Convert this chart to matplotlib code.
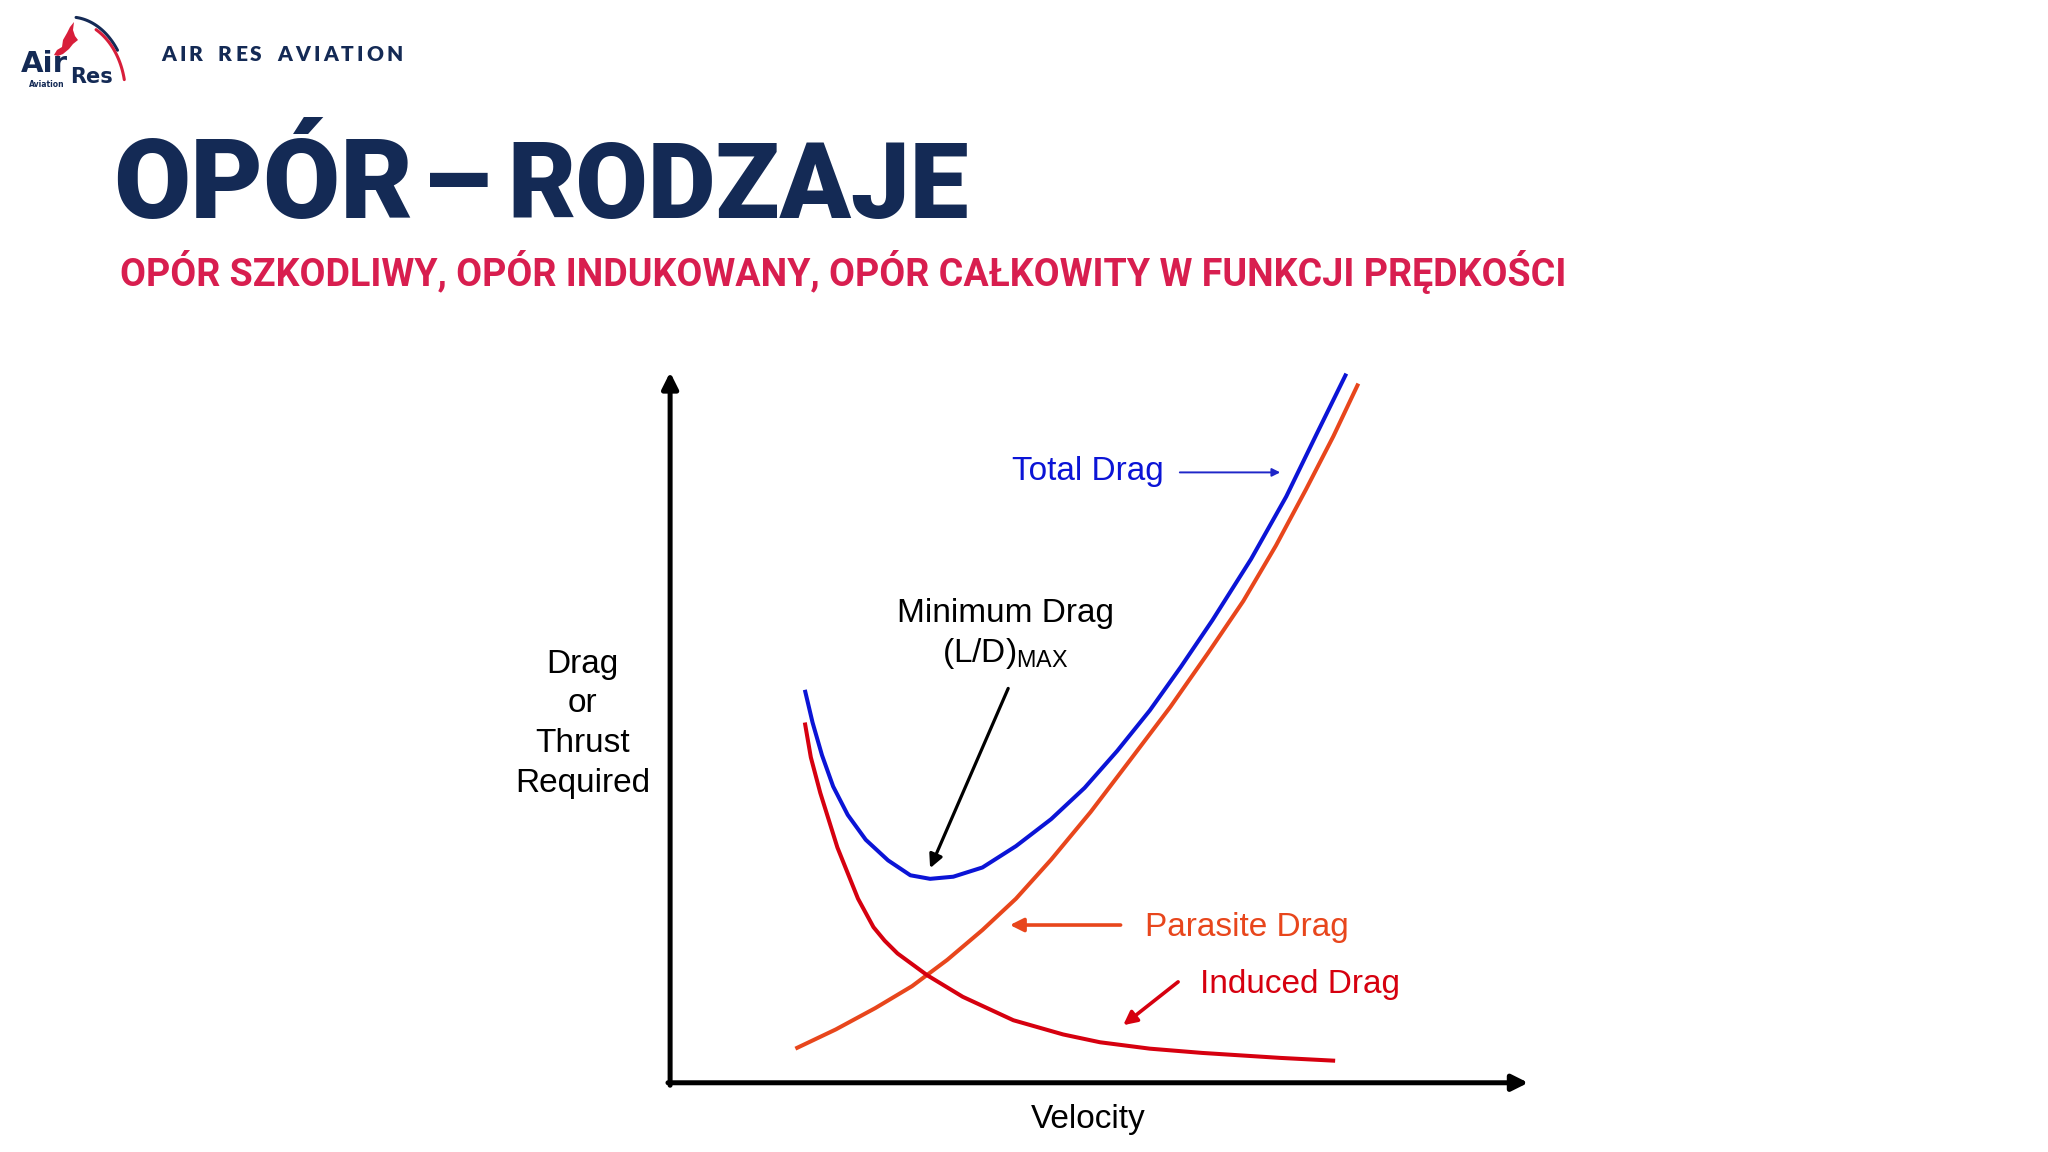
import numpy as np
import matplotlib
matplotlib.use("Agg")
import matplotlib.pyplot as plt

plt.rcParams['font.family'] = ['Liberation Sans', 'DejaVu Sans']
plt.rcParams['mathtext.default'] = 'regular'

# -------------------------
# Curve data (arbitrary 0-100 units)
# -------------------------
total_v = [15.7, 16.6, 17.7, 19.0, 20.7, 22.8, 25.4, 28.0, 30.3, 33.0, 36.4, 40.3, 44.4,
           48.3, 52.1, 55.9, 59.5, 63.2, 67.7, 71.8, 75.3, 78.8]
total_d = [55.3, 50.7, 46.1, 41.7, 37.7, 34.2, 31.3, 29.2, 28.7, 29.0, 30.3, 33.3, 37.1,
           41.5, 46.7, 52.4, 58.5, 65.1, 73.7, 82.5, 91.2, 99.8]

parasite_v = [14.6, 19.3, 23.9, 28.2, 32.3, 36.4, 40.3, 44.4, 49.0, 53.6, 58.3, 62.7, 66.8,
              70.6, 74.1, 77.3, 80.2]
parasite_d = [4.8, 7.5, 10.5, 13.6, 17.3, 21.5, 25.9, 31.4, 38.1, 45.4, 52.9, 60.5, 67.8,
              75.6, 83.5, 91.0, 98.4]

induced_v = [15.7, 16.4, 17.5, 19.5, 21.9, 23.7, 25.0, 26.5, 30.0, 34.1, 40.0, 45.8, 50.1,
             55.9, 62.0, 71.1, 77.5]
induced_d = [50.7, 45.8, 40.8, 33.1, 25.9, 21.9, 20.0, 18.2, 15.1, 12.1, 8.8, 6.8, 5.7,
             4.8, 4.2, 3.5, 3.1]

blue = '#0B14D6'
orange = '#E8461C'
red = '#D6000F'
navy = '#142A55'
crimson = '#D81E4F'

fig = plt.figure(figsize=(20.48, 11.52), dpi=100)
fig.patch.set_facecolor('white')
renderer = fig.canvas.get_renderer()


def fit_width(t, target):
    w = t.get_window_extent(renderer).width
    t.set_fontsize(t.get_fontsize() * target / w)


# -------------------------
# Page header (pixel coordinates)
# -------------------------
page = fig.add_axes([0, 0, 1, 1])
page.set_xlim(0, 2048)
page.set_ylim(1152, 0)
page.axis('off')

# logo
th = np.radians(np.linspace(35, 84, 40))
page.plot(70 + 58 * np.cos(th), 95 - 78 * np.sin(th), color=navy, lw=2.2, solid_capstyle='round')
th = np.radians(np.linspace(12, 62, 40))
page.plot(70 + 55.5 * np.cos(th), 95 - 74 * np.sin(th), color='#D81E3A', lw=2.2,
          solid_capstyle='round')
bird = np.array([(54, 55), (57, 50), (62, 47), (63, 40), (67, 33), (70, 27), (74, 22), (73, 30),
                 (75, 36), (78, 40), (73, 44), (69, 49), (63, 54), (58, 56)])
page.fill(bird[:, 0], bird[:, 1], color='#D81E3A', lw=0)
page.text(21, 72, "Air", fontsize=21, fontweight='bold', family='DejaVu Sans', color=navy,
          ha='left', va='baseline')
page.text(70, 83, "Res", fontsize=15, fontweight='bold', family='DejaVu Sans', color=navy,
          ha='left', va='baseline')
page.text(29, 87, "Aviation", fontsize=5.5, fontweight='bold', family='DejaVu Sans', color=navy,
          ha='left', va='baseline')

# letter-spaced header text
letters = []
for ch in "AIR RES AVIATION":
    letters.append(page.text(0, 61, ch, fontsize=15, fontweight='heavy', family='Lato',
                             color=navy, ha='left', va='baseline'))
widths = [t.get_window_extent(renderer).width if t.get_text() != ' ' else 9 for t in letters]
gap = (403 - 161 - sum(widths)) / (len(letters) - 1)
x = 161
for t, w in zip(letters, widths):
    t.set_x(x)
    x += w + gap

# title pieces
t1 = page.text(113, 218, "OPÓR", fontsize=80, fontweight='black', family='Roboto',
               color=navy, ha='left', va='baseline')
fit_width(t1, 300)
t3 = page.text(507, 218, "RODZAJE", fontsize=80, fontweight='black', family='Roboto',
               color=navy, ha='left', va='baseline')
fit_width(t3, 462)
page.text(457, 218, "–", fontsize=t1.get_fontsize(), fontweight='black', family='Roboto',
          color=navy, ha='center', va='baseline')

sub = page.text(120, 286, "OPÓR SZKODLIWY, OPÓR INDUKOWANY, OPÓR CAŁKOWITY W FUNKCJI PRĘDKOŚCI",
                fontsize=25, fontweight='bold', family='Roboto', color=crimson,
                ha='left', va='baseline')
fit_width(sub, 1446)

# -------------------------
# Drag chart
# -------------------------
ax = fig.add_axes([0.3272, 0.0601, 0.4190, 0.6168])
ax.set_xlim(0, 100)
ax.set_ylim(0, 100)
ax.axis('off')

curve_style = dict(lw=2.9, solid_joinstyle='round', solid_capstyle='butt')
ax.plot(parasite_v, parasite_d, color=orange, **curve_style)
ax.plot(induced_v, induced_d, color=red, **curve_style)
ax.plot(total_v, total_d, color=blue, **curve_style)

axis_arrow = dict(arrowstyle='-|>', lw=3.6, color='black', mutation_scale=24, shrinkA=0, shrinkB=0)
ax.annotate('', xy=(0, 100), xytext=(0, -0.35), arrowprops=axis_arrow, annotation_clip=False)
ax.annotate('', xy=(100, 0), xytext=(-0.25, 0), arrowprops=axis_arrow, annotation_clip=False)

fs = 24
ax.text(48.7, -6.4, "Velocity", fontsize=fs, ha='center', va='baseline')
ax.text(-10.2, 50.5, "Drag\nor\nThrust\nRequired", fontsize=fs, ha='center', va='center',
        multialignment='center', linespacing=1.37)

ax.text(57.5, 84.9, "Total Drag", fontsize=fs, color=blue, ha='right', va='baseline')
ax.annotate('', xy=(71.1, 85.9), xytext=(59.4, 85.9),
            arrowprops=dict(arrowstyle='-|>', lw=1.4, color='#1F26C8', mutation_scale=12,
                            shrinkA=0, shrinkB=0))

ax.text(39.1, 64.9, "Minimum Drag", fontsize=fs, ha='center', va='baseline')
ax.text(39.1, 59.2, r"(L/D)$_{MAX}$", fontsize=fs, ha='center', va='baseline')
ax.annotate('', xy=(30.3, 30.2), xytext=(39.4, 55.5),
            arrowprops=dict(arrowstyle='-|>', lw=2.3, color='black', mutation_scale=20,
                            shrinkA=0, shrinkB=0))

ax.text(55.3, 20.6, "Parasite Drag", fontsize=fs, color=orange, ha='left', va='baseline')
ax.annotate('', xy=(39.6, 22.2), xytext=(52.5, 22.2),
            arrowprops=dict(arrowstyle='-|>', lw=2.6, color=orange, mutation_scale=20,
                            shrinkA=0, shrinkB=0))

ax.text(61.8, 12.7, "Induced Drag", fontsize=fs, color=red, ha='left', va='baseline')
ax.annotate('', xy=(52.8, 8.1), xytext=(59.2, 14.2),
            arrowprops=dict(arrowstyle='-|>', lw=2.6, color=red, mutation_scale=20,
                            shrinkA=0, shrinkB=0))

fig.savefig("out.png", dpi=100, facecolor='white')
